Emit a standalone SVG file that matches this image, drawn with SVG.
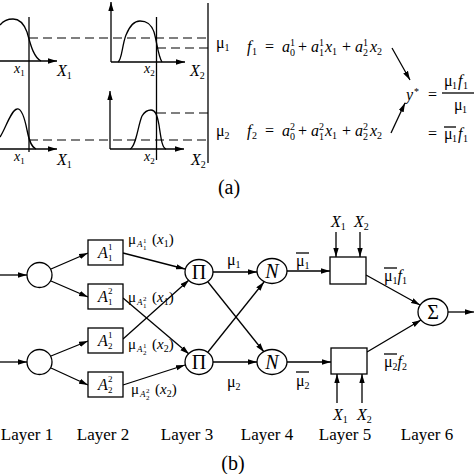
<svg xmlns="http://www.w3.org/2000/svg" width="474" height="474" viewBox="0 0 474 474">
<style>
.ln{stroke:#000;stroke-width:1.3;fill:none}
.dash{stroke:#000;stroke-width:1.2;stroke-dasharray:9 5;fill:none}
.node{fill:#fff;stroke:#000;stroke-width:1.3}
text{font-family:"Liberation Serif","Times New Roman",serif;fill:#000}
.i{font-style:italic}
.t20{font-size:20px}
.t16{font-size:16px}
.t15{font-size:15px}
.t14{font-size:14px}
.s10{font-size:10px}
.s9{font-size:9px}
.s7{font-size:7px}
.lay{font-size:17px}
</style>
<defs>
<marker id="ah" viewBox="0 0 10 6" refX="10" refY="3" markerWidth="9" markerHeight="6" markerUnits="userSpaceOnUse" orient="auto"><path d="M0,0 L10,3 L0,6 z" fill="#000"/></marker>
</defs>
<rect width="474" height="474" fill="#fff"/>

<!-- Part (a) -->
<g id="part-a">
  <g id="plot-x1-top">
    <path class="ln" d="M0,61 L57,61" marker-end="url(#ah)"/>
    <path class="ln" d="M0,25 C3,21 8,19 13,19 C20,19 24,24 27,32 C30,42 33,57 41,61"/>
    <text class="i t14" x="14" y="73">x<tspan class="s9" font-style="normal" dy="3">1</tspan></text>
    <text class="i t16" x="57" y="76">X<tspan class="s10" font-style="normal" dy="3">1</tspan></text>
  </g>
  <g id="plot-x2-top">
    <path class="ln" d="M111,62 L111,2" marker-end="url(#ah)"/>
    <path class="ln" d="M111,62 L185,62" marker-end="url(#ah)"/>
    <path class="ln" d="M118,62 C122,60 122,45 126,35 C130,25 135,21 140,21 C147,21 151,24 154,32 C157,42 158,56 162,62"/>
    <text class="i t14" x="144" y="73">x<tspan class="s9" font-style="normal" dy="3">2</tspan></text>
    <text class="i t16" x="190" y="76">X<tspan class="s10" font-style="normal" dy="3">2</tspan></text>
  </g>
  <g id="plot-x1-bot">
    <path class="ln" d="M0,149 L57,149" marker-end="url(#ah)"/>
    <path class="ln" d="M0,137 C5,130 11,110 17,109 C22,108 25,120 27,130 C29,140 31,147 36,149"/>
    <text class="i t14" x="14" y="161">x<tspan class="s9" font-style="normal" dy="3">1</tspan></text>
    <text class="i t16" x="57" y="165">X<tspan class="s10" font-style="normal" dy="3">1</tspan></text>
  </g>
  <g id="plot-x2-bot">
    <path class="ln" d="M110,149 L110,91" marker-end="url(#ah)"/>
    <path class="ln" d="M110,149 L184,149" marker-end="url(#ah)"/>
    <path class="ln" d="M130,149 C136,147 138,125 142,116 C145,111 148,110 151,110 C155,110 157,114 159,125 C161,138 162,148 166,149"/>
    <text class="i t14" x="144" y="161">x<tspan class="s9" font-style="normal" dy="3">2</tspan></text>
    <text class="i t16" x="191" y="165">X<tspan class="s10" font-style="normal" dy="3">2</tspan></text>
  </g>
  <g id="guides">
    <path class="ln" d="M29,17 L29,152"/>
    <path class="ln" d="M156.5,17 L156.5,160"/>
    <path class="ln" d="M208,3 L208,163"/>
    <path class="dash" d="M29,38 L208,38"/>
    <path class="dash" d="M157,48 L208,48"/>
    <path class="dash" d="M29,140 L208,140"/>
    <path class="dash" d="M157,113 L208,113"/>
  </g>
  <text class="t16" x="216" y="48">μ<tspan class="s10" dy="3">1</tspan></text>
  <text class="t16" x="216" y="136">μ<tspan class="s10" dy="3">2</tspan></text>

  <g id="eq-f1" class="t16">
    <text class="i" x="247" y="52">f</text><text class="s10" x="252" y="55">1</text>
    <text x="265" y="52">=</text>
    <text class="i" x="282" y="52">a</text><text class="s10" x="290" y="46">1</text><text class="s10" x="290" y="56">0</text>
    <text x="298" y="52">+</text>
    <text class="i" x="311" y="52">a</text><text class="s10" x="319" y="46">1</text><text class="s10" x="319" y="56">1</text>
    <text class="i" x="325" y="52">x</text><text class="s10" x="332" y="55">1</text>
    <text x="342" y="52">+</text>
    <text class="i" x="355" y="52">a</text><text class="s10" x="363" y="46">1</text><text class="s10" x="363" y="56">2</text>
    <text class="i" x="370" y="52">x</text><text class="s10" x="377" y="55">2</text>
  </g>
  <g id="eq-f2" class="t16">
    <text class="i" x="247" y="136">f</text><text class="s10" x="252" y="139">2</text>
    <text x="265" y="136">=</text>
    <text class="i" x="282" y="136">a</text><text class="s10" x="290" y="130">2</text><text class="s10" x="290" y="140">0</text>
    <text x="298" y="136">+</text>
    <text class="i" x="311" y="136">a</text><text class="s10" x="319" y="130">2</text><text class="s10" x="319" y="140">1</text>
    <text class="i" x="325" y="136">x</text><text class="s10" x="332" y="139">1</text>
    <text x="342" y="136">+</text>
    <text class="i" x="355" y="136">a</text><text class="s10" x="363" y="130">2</text><text class="s10" x="363" y="140">2</text>
    <text class="i" x="370" y="136">x</text><text class="s10" x="377" y="139">2</text>
  </g>
  <path class="ln" d="M392,48 L410,80" marker-end="url(#ah)"/>
  <path class="ln" d="M391,133 L405,103" marker-end="url(#ah)"/>
  <g id="eq-y" class="t16">
    <text class="i" x="406" y="100">y</text><text class="s10" x="414" y="95">*</text>
    <text x="428" y="100">=</text>
    <text x="444" y="86">μ</text><text class="s10" x="452" y="89">1</text>
    <text class="i" x="458" y="86">f</text><text class="s10" x="463" y="89">1</text>
    <path class="ln" d="M442,93 L474,93"/>
    <text x="454" y="110">μ</text><text class="s10" x="462" y="113">1</text>
    <text x="428" y="139">=</text>
    <path class="ln" d="M444,127 L456,127"/>
    <text x="444" y="139">μ</text><text class="s10" x="452" y="142">1</text>
    <text class="i" x="458" y="139">f</text><text class="s10" x="463" y="142">1</text>
  </g>
  <text class="t20" x="229" y="194" text-anchor="middle">(a)</text>
</g>

<!-- Part (b) connectors -->
<g id="connectors">
  <path class="ln" d="M0,275 L27,275" marker-end="url(#ah)"/>
  <path class="ln" d="M0,362 L27,362" marker-end="url(#ah)"/>
  <path class="ln" d="M51,269 L88,253" marker-end="url(#ah)"/>
  <path class="ln" d="M51,281 L88,297" marker-end="url(#ah)"/>
  <path class="ln" d="M51,356 L88,341" marker-end="url(#ah)"/>
  <path class="ln" d="M51,368 L88,385" marker-end="url(#ah)"/>
  <path class="ln" d="M123,253 L185,269" marker-end="url(#ah)"/>
  <path class="ln" d="M123,298 L189,354" marker-end="url(#ah)"/>
  <path class="ln" d="M123,339 L189,280" marker-end="url(#ah)"/>
  <path class="ln" d="M123,385 L185,365" marker-end="url(#ah)"/>
  <path class="ln" d="M213,272 L257,272" marker-end="url(#ah)"/>
  <path class="ln" d="M208,282 L264,352" marker-end="url(#ah)"/>
  <path class="ln" d="M208,352 L264,282" marker-end="url(#ah)"/>
  <path class="ln" d="M213,362 L257,362" marker-end="url(#ah)"/>
  <path class="ln" d="M287,271 L330,271" marker-end="url(#ah)"/>
  <path class="ln" d="M287,362 L331,362" marker-end="url(#ah)"/>
  <path class="ln" d="M366,275 L420,305" marker-end="url(#ah)"/>
  <path class="ln" d="M367,352 L421,320" marker-end="url(#ah)"/>
  <path class="ln" d="M448,312 L474,312" marker-end="url(#ah)"/>
  <path class="ln" d="M336,232 L336,257" marker-end="url(#ah)"/>
  <path class="ln" d="M360,232 L360,257" marker-end="url(#ah)"/>
  <path class="ln" d="M337,403 L337,374" marker-end="url(#ah)"/>
  <path class="ln" d="M362,403 L362,374" marker-end="url(#ah)"/>
</g>

<!-- Layer 1 -->
<g id="in1"><circle class="node" cx="39.5" cy="275" r="12.5"/></g>
<g id="in2"><circle class="node" cx="39.5" cy="362" r="12.5"/></g>

<!-- Layer 2 -->
<g id="A11"><rect class="node" x="88" y="240" width="35" height="25"/>
  <text class="i t16" x="98" y="258">A</text><text class="s9" x="108" y="250">1</text><text class="s9" x="108" y="261">1</text></g>
<g id="A12"><rect class="node" x="88" y="284" width="35" height="25"/>
  <text class="i t16" x="98" y="302">A</text><text class="s9" x="108" y="294">2</text><text class="s9" x="108" y="305">1</text></g>
<g id="A21"><rect class="node" x="88" y="328" width="35" height="25"/>
  <text class="i t16" x="98" y="346">A</text><text class="s9" x="108" y="338">1</text><text class="s9" x="108" y="349">2</text></g>
<g id="A22"><rect class="node" x="88" y="372" width="35" height="25"/>
  <text class="i t16" x="98" y="390">A</text><text class="s9" x="108" y="382">2</text><text class="s9" x="108" y="393">2</text></g>

<!-- Layer 2 output labels -->
<g id="mu-labels" class="t15">
  <text x="128" y="244">μ</text><text class="i s9" x="137" y="247">A</text><text class="s7" x="143" y="243">1</text><text class="s7" x="143" y="250">1</text>
  <text x="152" y="244">(<tspan class="i">x</tspan><tspan class="s10" dy="3">1</tspan><tspan dy="-3">)</tspan></text>
  <text x="128" y="302">μ</text><text class="i s9" x="137" y="305">A</text><text class="s7" x="143" y="301">2</text><text class="s7" x="143" y="308">1</text>
  <text x="152" y="302">(<tspan class="i">x</tspan><tspan class="s10" dy="3">1</tspan><tspan dy="-3">)</tspan></text>
  <text x="128" y="349">μ</text><text class="i s9" x="137" y="352">A</text><text class="s7" x="143" y="348">1</text><text class="s7" x="143" y="355">2</text>
  <text x="152" y="349">(<tspan class="i">x</tspan><tspan class="s10" dy="3">2</tspan><tspan dy="-3">)</tspan></text>
  <text x="131" y="394">μ</text><text class="i s9" x="140" y="397">A</text><text class="s7" x="146" y="393">2</text><text class="s7" x="146" y="400">2</text>
  <text x="155" y="394">(<tspan class="i">x</tspan><tspan class="s10" dy="3">2</tspan><tspan dy="-3">)</tspan></text>
</g>

<!-- Layer 3 -->
<g id="pi1"><ellipse class="node" cx="199" cy="272" rx="14" ry="12.5"/><text class="t20" x="199" y="279" text-anchor="middle">Π</text></g>
<g id="pi2"><ellipse class="node" cx="199" cy="362" rx="14" ry="12.5"/><text class="t20" x="199" y="369" text-anchor="middle">Π</text></g>

<text class="t16" x="227" y="265">μ<tspan class="s10" dy="3">1</tspan></text>
<text class="t16" x="227" y="387">μ<tspan class="s10" dy="3">2</tspan></text>

<!-- Layer 4 -->
<g id="n1"><ellipse class="node" cx="272" cy="271" rx="15" ry="12.5"/><text class="i t20" x="272" y="278" text-anchor="middle">N</text></g>
<g id="n2"><ellipse class="node" cx="272" cy="362" rx="15" ry="12.5"/><text class="i t20" x="272" y="369" text-anchor="middle">N</text></g>

<path class="ln" d="M296,253 L309,253"/>
<text class="t16" x="296" y="266">μ<tspan class="s10" dy="3">1</tspan></text>
<path class="ln" d="M296,372 L309,372"/>
<text class="t16" x="296" y="386">μ<tspan class="s10" dy="3">2</tspan></text>

<!-- Layer 5 -->
<g id="L5a"><rect class="node" x="330" y="257" width="36" height="27"/></g>
<g id="L5b"><rect class="node" x="331" y="348" width="36" height="26"/></g>
<text class="i t16" x="331" y="227">X<tspan class="s10" font-style="normal" dy="3">1</tspan></text>
<text class="i t16" x="354" y="227">X<tspan class="s10" font-style="normal" dy="3">2</tspan></text>
<text class="i t16" x="333" y="420">X<tspan class="s10" font-style="normal" dy="3">1</tspan></text>
<text class="i t16" x="357" y="420">X<tspan class="s10" font-style="normal" dy="3">2</tspan></text>

<path class="ln" d="M384,268 L397,268"/>
<text class="t16" x="384" y="281">μ<tspan class="s10" dy="3">1</tspan><tspan class="i" dy="-3">f</tspan><tspan class="s10" dy="3">1</tspan></text>
<path class="ln" d="M384,354 L397,354"/>
<text class="t16" x="384" y="367">μ<tspan class="s10" dy="3">2</tspan><tspan class="i" dy="-3">f</tspan><tspan class="s10" dy="3">2</tspan></text>

<!-- Layer 6 -->
<g id="sigma"><ellipse class="node" cx="433" cy="312" rx="15" ry="13.5"/><text class="t20" x="433" y="319" text-anchor="middle">Σ</text></g>

<g id="layer-labels" class="lay" text-anchor="middle">
  <text x="27" y="440">Layer 1</text>
  <text x="103" y="440">Layer 2</text>
  <text x="187" y="440">Layer 3</text>
  <text x="267" y="440">Layer 4</text>
  <text x="345" y="440">Layer 5</text>
  <text x="427" y="440">Layer 6</text>
</g>
<text class="t20" x="233" y="470" text-anchor="middle">(b)</text>
</svg>
